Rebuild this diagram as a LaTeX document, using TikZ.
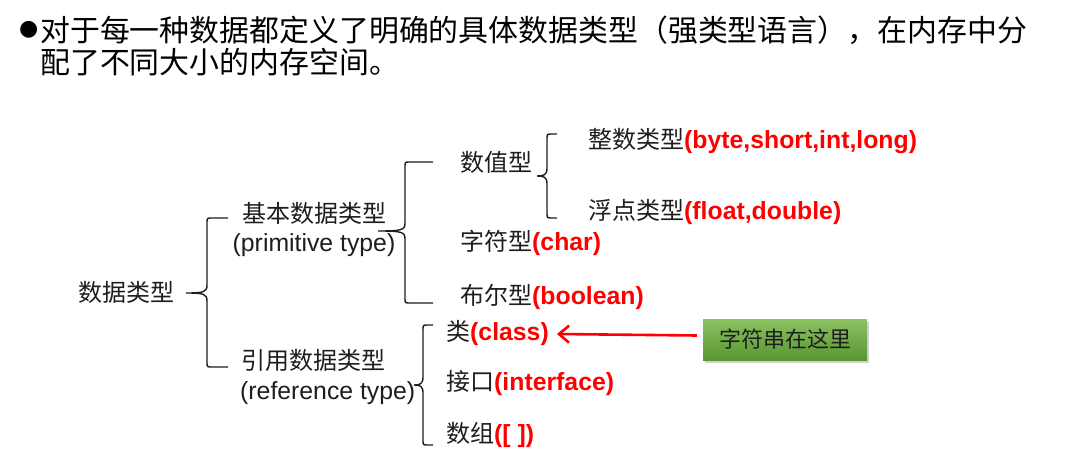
\documentclass[tikz,border=0pt]{standalone}
\usepackage{fontspec}
\setmainfont{Liberation Sans}
\newfontfamily\cjk{Noto Sans CJK SC}
\newfontfamily\symf{DejaVu Sans}
\usetikzlibrary{arrows.meta,shadows}
\definecolor{gtop}{RGB}{140,194,98}
\definecolor{gbot}{RGB}{88,150,48}
\definecolor{ink}{RGB}{30,30,30}
\newcommand{\drawbrace}[6]{% tipx, midy, xv, top, bottom, xend
 \draw[bracestyle] (#6,#4) -- ({#3+5},#4) .. controls (#3,#4) .. (#3,{#4+5}) -- (#3,{#2-8})
   .. controls (#3,{#2-1}) and ({#3-3},#2) .. (#1,#2)
   .. controls ({#3-3},#2) and (#3,{#2+1}) .. (#3,{#2+8}) -- (#3,{#5-5})
   .. controls (#3,#5) .. ({#3+5},#5) -- (#6,#5);}
\newcommand{\zh}[1]{{\fontsize{24}{29}\selectfont\cjk #1}}
\newcommand{\rd}[1]{{\bfseries\color{red}#1}}
\begin{document}
\begin{tikzpicture}[x=1pt,y=-1pt,
  txt/.style={inner sep=0pt,anchor=west,text=ink,font=\fontsize{24.8}{29.5}\selectfont},
  ttl/.style={inner sep=0pt,anchor=west,text=black,font=\fontsize{29.9}{32}\selectfont\cjk},
  bracestyle/.style={draw=ink,line width=1.4pt},
  note/.style={draw=none,top color=gtop,bottom color=gbot,minimum width=164pt,minimum height=41pt,inner sep=0pt,
     text=ink,font=\fontsize{22}{24}\selectfont\cjk,drop shadow={opacity=0.35,shadow xshift=2pt,shadow yshift=-3pt}},
  redarrow/.style={draw=red,line width=2.6pt,-{Straight Barb[length=10pt,width=17pt,line width=2.6pt]}}]
\useasboundingbox (0,0) rectangle (1070,470);
\fill[white] (0,0) rectangle (1070,470);
% title
\node[inner sep=0pt,anchor=west,font=\fontsize{22}{24}\selectfont\symf] (bul) at (19,30) {●};
\node[ttl] (t1) at (40,30) {对于每一种数据都定义了明确的具体数据类型（强类型语言），在内存中分};
\node[ttl] (t2) at (40,62) {配了不同大小的内存空间。};
% nodes
\node[txt] (dt) at (78,292) {\zh{数据类型}};
\node[txt,anchor=center,align=center] (prim) at (314,229.5) {\zh{基本数据类型}\\(primitive type)};
\node[txt,anchor=west,align=left] (ref) at (240,377) {\hspace{1pt}\zh{引用数据类型}\\(reference type)};
\node[txt] (num) at (460,162) {\zh{数值型}};
\node[txt] (int) at (588,141) {\zh{整数类型}\rd{(byte,short,int,long)}};
\node[txt] (flt) at (588,212) {\zh{浮点类型}\rd{(float,double)}};
\node[txt] (chr) at (460,243) {\zh{字符型}\rd{(char)}};
\node[txt] (bool) at (460,297) {\zh{布尔型}\rd{(boolean)}};
\node[txt] (cls) at (446,333) {\zh{类}\rd{(class)}};
\node[txt] (itf) at (446,383) {\zh{接口}\rd{(interface)}};
\node[txt] (arr) at (446,435) {\zh{数组}\rd{([ ])}};
\node[note] (nt) at (785,339.5) {字符串在这里};
% braces
\drawbrace{186}{293}{207}{218}{367}{228}
\drawbrace{378}{231}{405}{162}{303}{433}
\drawbrace{537}{176}{547}{134}{218}{557}
\drawbrace{414}{385}{423}{325}{445}{433}
% arrow
\draw[redarrow] ([yshift=4pt,xshift=-6pt]nt.west) -- ([xshift=8pt,yshift=-1pt]cls.east);
\end{tikzpicture}
\end{document}
